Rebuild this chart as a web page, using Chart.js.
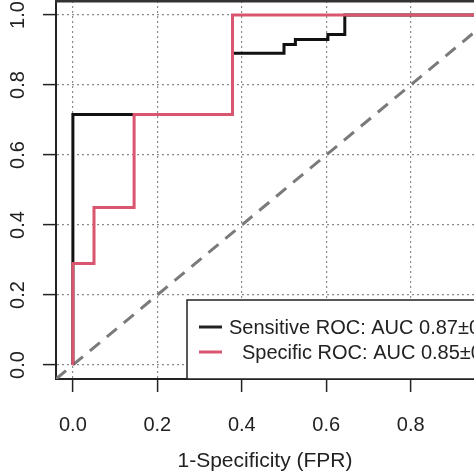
<!DOCTYPE html>
<html lang="en">
<head>
    <meta charset="UTF-8">
    <title>ROC curves</title>
    <script src="https://cdn.jsdelivr.net/npm/chart.js"></script>
    <style>
        html, body { margin: 0; padding: 0; background: white; overflow: hidden; }
        #wrap { width: 474px; height: 474px; position: relative; }
    </style>
</head>
<body>
    <div id="wrap"><canvas id="rocChart"></canvas></div>
    <script>
        // Sensitive ROC (black)
        const sensFpr = [0, 0, 0.145, 0.378, 0.378, 0.5, 0.5, 0.527, 0.527, 0.604, 0.604, 0.644, 0.644, 1];
        const sensTpr = [0, 0.716, 0.716, 0.716, 0.891, 0.891, 0.916, 0.916, 0.93, 0.93, 0.944, 0.944, 1, 1];
        // Specific ROC (red)
        const specFpr = [0, 0, 0.05, 0.05, 0.145, 0.145, 0.378, 0.378, 1];
        const specTpr = [0, 0.29, 0.29, 0.45, 0.45, 0.716, 0.716, 1, 1];
        // chance line
        const diagX = [-0.04, 1.04];
        const diagY = [-0.04, 1.04];

        const xTicks = [0, 0.2, 0.4, 0.6, 0.8];
        const yTicks = [0, 0.2, 0.4, 0.6, 0.8, 1.0];
        const legendLabels = ["Sensitive ROC: AUC 0.87\u00b10", "Specific ROC: AUC 0.85\u00b10"];
        const xTitle = "1-Specificity (FPR)";

        const red = "#DA5670";
        const ink = "#222";

        Chart.defaults.font.family = "'Liberation Sans', Arial, sans-serif";

        function pts(xs, ys) {
            return xs.map((x, i) => ({ x: x, y: ys[i] }));
        }

        const gridOpts = {
            color: "#8a8a8a",
            lineWidth: 1.2,
            tickColor: ink,
            tickLength: 13,
            tickWidth: 1.5,
            tickBorderDash: []
        };
        // in v4 the grid line dash lives on border.dash
        const borderOpts = { color: ink, width: 2, dash: [2, 3] };

        // box top, rotated y labels, legend
        const rPlot = {
            id: "rPlot",
            afterDatasetsDraw(chart) {
                const ctx = chart.ctx;
                const a = chart.chartArea;
                const ys = chart.scales.y;

                // legend box (bottom right)
                const bx = 187, by = 300;
                ctx.save();
                ctx.fillStyle = "white";
                ctx.fillRect(bx, by, a.right - bx + 5, a.bottom - by);
                ctx.strokeStyle = ink;
                ctx.lineWidth = 1.5;
                ctx.strokeRect(bx, by, a.right - bx + 10, a.bottom - by);

                const rows = [
                    { y: 327, color: ink, tx: 229 },
                    { y: 352, color: red, tx: 242 }
                ];
                ctx.font = "20px 'Liberation Sans', Arial, sans-serif";
                ctx.textBaseline = "middle";
                ctx.textAlign = "left";
                rows.forEach((r, i) => {
                    ctx.strokeStyle = r.color;
                    ctx.lineWidth = 3;
                    ctx.beginPath();
                    ctx.moveTo(199, r.y);
                    ctx.lineTo(222, r.y);
                    ctx.stroke();
                    ctx.fillStyle = ink;
                    ctx.fillText(legendLabels[i], r.tx, r.y + 1);
                });

                // top of box
                ctx.strokeStyle = "#333";
                ctx.lineWidth = 3;
                ctx.beginPath();
                ctx.moveTo(a.left - 1, a.top);
                ctx.lineTo(a.right, a.top);
                ctx.stroke();

                // y tick labels, rotated like R
                ctx.fillStyle = ink;
                ctx.font = "20px 'Liberation Sans', Arial, sans-serif";
                ctx.textAlign = "center";
                ctx.textBaseline = "middle";
                yTicks.forEach(v => {
                    const py = ys.getPixelForValue(v);
                    ctx.save();
                    ctx.translate(18, py);
                    ctx.rotate(-Math.PI / 2);
                    ctx.fillText(v.toFixed(1), 0, 0);
                    ctx.restore();
                });
                ctx.restore();
            }
        };

        const ctx = document.getElementById("rocChart").getContext("2d");
        const rocChart = new Chart(ctx, {
            type: "line",
            data: {
                datasets: [
                    {
                        label: "Specific ROC",
                        data: pts(specFpr, specTpr),
                        borderColor: red,
                        borderWidth: 3,
                        pointRadius: 0,
                        fill: false,
                        tension: 0
                    },
                    {
                        label: "Sensitive ROC",
                        data: pts(sensFpr, sensTpr),
                        borderColor: "#111",
                        borderWidth: 3,
                        pointRadius: 0,
                        fill: false,
                        tension: 0
                    },
                    {
                        label: "chance",
                        data: pts(diagX, diagY),
                        borderColor: "#7a7a7a",
                        borderWidth: 3,
                        borderDash: [13, 9],
                        pointRadius: 0,
                        fill: false
                    }
                ]
            },
            options: {
                responsive: true,
                maintainAspectRatio: false,
                animation: false,
                layout: { padding: { top: 1, left: 0, right: 0, bottom: 0 } },
                plugins: {
                    legend: { display: false },
                    tooltip: { enabled: false }
                },
                scales: {
                    x: {
                        type: "linear",
                        min: -0.04,
                        max: 0.95,
                        afterBuildTicks: s => { s.ticks = xTicks.map(v => ({ value: v })); },
                        afterFit: s => { s.height = 95; },
                        ticks: {
                            callback: v => v.toFixed(1),
                            font: { size: 20 },
                            color: ink,
                            padding: 21,
                            maxRotation: 0,
                            autoSkip: false
                        },
                        grid: gridOpts,
                        border: borderOpts,
                        title: {
                            display: true,
                            text: xTitle,
                            font: { size: 21 },
                            color: ink,
                            padding: { top: 0, bottom: 0 }
                        }
                    },
                    y: {
                        type: "linear",
                        min: -0.04,
                        max: 1.04,
                        afterBuildTicks: s => { s.ticks = yTicks.map(v => ({ value: v })); },
                        afterFit: s => { s.width = 56; },
                        ticks: { display: false },
                        grid: gridOpts,
                        border: borderOpts
                    }
                }
            },
            plugins: [rPlot]
        });
    </script>
</body>
</html>
